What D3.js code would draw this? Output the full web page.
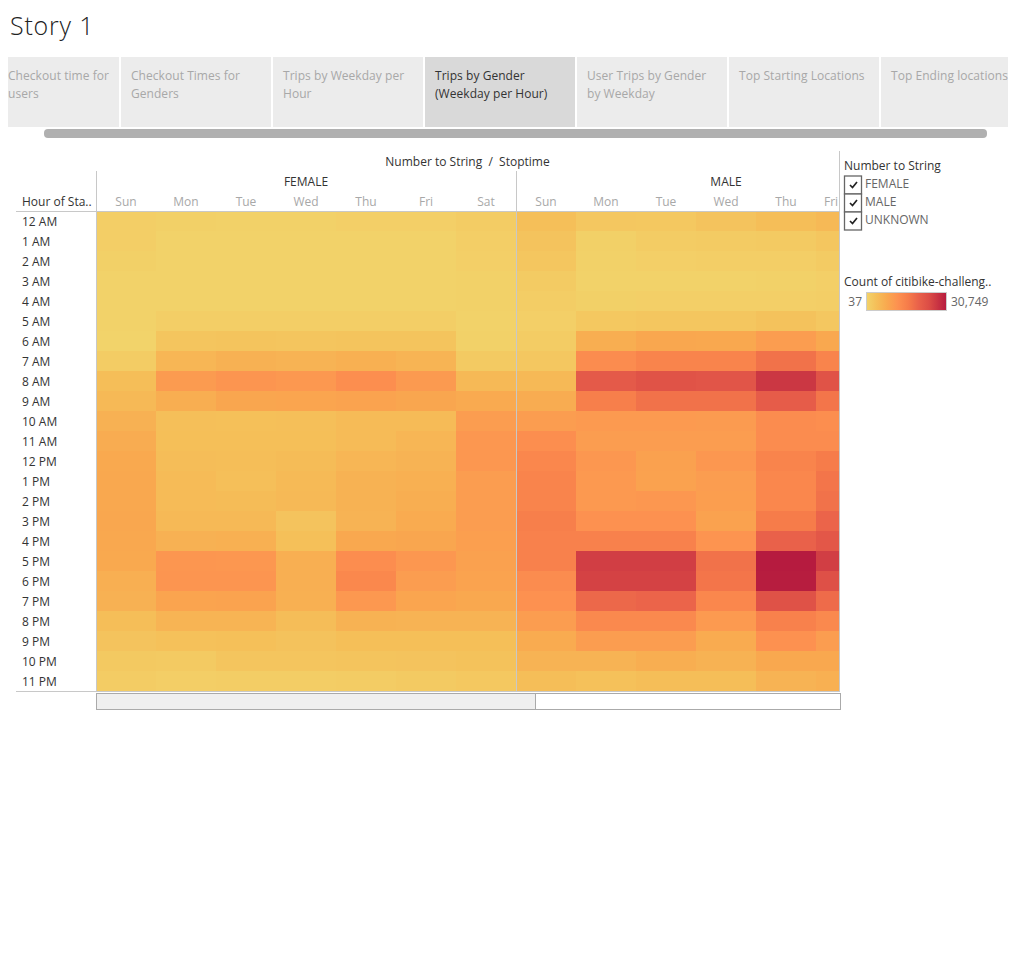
<!DOCTYPE html>
<html>
<head>
    <meta charset="utf-8">
    <script src="https://cdnjs.cloudflare.com/ajax/libs/d3/7.8.5/d3.min.js"></script>
</head>
<body style="margin:0;background:#fff">
<style>
    text{font-family:"Open Sans",sans-serif;}
    .tick text{font-family:"Open Sans",sans-serif;}
    .tab{font-size:12px;fill:#a8a8a8;letter-spacing:0.05px;}
    .tab.dark{fill:#333;}
    .axis path{display:none;}
    .axis line{display:none;}
    .rule{stroke:#c8c8c8;fill:none;}
</style>
<script>
    var hours=["12 AM","1 AM","2 AM","3 AM","4 AM","5 AM","6 AM","7 AM","8 AM","9 AM","10 AM","11 AM",
        "12 PM","1 PM","2 PM","3 PM","4 PM","5 PM","6 PM","7 PM","8 PM","9 PM","10 PM","11 PM"];
    var days=["Sun","Mon","Tue","Wed","Thu","Fri","Sat"];
    var maleDays=["Sun","Mon","Tue","Wed","Thu","Fri"];
    var genders=["FEMALE","MALE","UNKNOWN"];
    var tabNames=[["Checkout time for","users"],["Checkout Times for","Genders"],["Trips by Weekday per","Hour"],
        ["Trips by Gender","(Weekday per Hour)"],["User Trips by Gender","by Weekday"],["Top Starting Locations"],["Top Ending locations"]];

    // one row per hour, Sun..Sat
    var female=[
        [900,600,500,500,700,800,1300],
        [1000,300,300,300,300,200,1000],
        [600,200,200,200,200,200,800],
        [300,200,200,200,200,200,500],
        [300,200,200,200,200,200,400],
        [200,900,900,900,900,1000,300],
        [100,2600,2800,2700,2900,2800,500],
        [1400,5500,6300,6000,6500,5800,1700],
        [4000,10300,11300,10800,12500,10400,5000],
        [5000,7000,8300,8500,8800,8300,7600],
        [6300,3800,3700,3800,4500,4600,10000],
        [7200,3900,3900,3900,4500,5500,11000],
        [7800,4100,4000,4400,5500,6000,11000],
        [8000,4500,3800,4800,6200,6500,10000],
        [8000,4500,4300,5000,6200,7000,10000],
        [8100,5000,5000,3000,6000,7500,10000],
        [8000,6300,6500,3700,8000,8300,9500],
        [7800,11200,11000,6800,12800,11000,9200],
        [6800,11300,11300,6800,13800,10000,8800],
        [6400,8700,8900,6600,10800,8500,8000],
        [4000,5800,5800,4100,6200,6000,6000],
        [3000,3500,3700,3200,3900,3900,3900],
        [2000,1800,2700,2600,2800,3000,3300],
        [1400,1000,1100,1200,1300,1700,2200]
    ];
    // Sun..Fri, Sat is scrolled out of the view
    var male=[
        [3800,2300,2200,3000,4000,5000],
        [3000,600,1400,1500,1800,2500],
        [2500,500,800,1000,900,1500],
        [1500,300,200,300,500,800],
        [1200,600,700,700,800,900],
        [700,2200,2400,2400,3200,2300],
        [1300,7000,8200,8000,10000,8000],
        [2300,13000,14500,14500,17500,14500],
        [5000,21500,22800,22500,27000,22800],
        [7300,15500,17500,17500,21000,17000],
        [10000,10500,10500,10200,13000,12500],
        [12500,10000,10000,10000,13000,13000],
        [14000,11000,9300,11000,14500,16000],
        [14500,10600,9000,10000,14000,17000],
        [14500,10600,11000,9800,14000,17500],
        [15500,12000,12000,9000,16000,19500],
        [15000,15000,15000,11500,20000,22000],
        [15000,26000,26000,17500,30749,26000],
        [13000,25500,25500,17000,30500,23500],
        [12000,19000,19500,14000,23000,18500],
        [10000,13500,13500,10500,15000,13500],
        [7500,10000,10000,7500,12000,10000],
        [6000,6000,7000,6200,8000,8000],
        [4000,3500,4000,4000,6000,6500]
    ];
    var colorStops=[37,4000,8000,12000,16000,20000,24000,30749];
    var colorRange=["#f2d36a","#f5be58","#f9a84f","#fd9150","#f67c4a","#e9614a","#dc4d46","#b61b3f"];

    var w=1015,h=963;
    var svg=d3.select('body').append('svg').attr('width',w).attr('height',h).style('display','block');
    var color=d3.scaleLinear().domain(colorStops).range(colorRange);

    //title
    svg.append('text').attr('x',10).attr('y',35).attr('font-size',25).attr('font-weight',300).attr('letter-spacing',0.8)
        .attr('fill','#222').text('Story 1');

    //story tabs
    var tabLeft=[8,121,273,425,577,729,881],
        tabRight=[119,271,423,575,727,879,1008],
        tabPad=[0,10,10,10,10,10,10];
    tabNames.forEach(function(lines,i){
        var on=i==3;
        svg.append('rect').attr('x',tabLeft[i]).attr('y',57).attr('width',tabRight[i]-tabLeft[i]).attr('height',70)
            .attr('fill',on?'#d9d9d9':'#ececec');
        lines.forEach(function(s,j){
            svg.append('text').attr('class','tab'+(on?' dark':'')).attr('x',tabLeft[i]+tabPad[i]).attr('y',80+18*j).text(s);
        });
    });
    svg.append('rect').attr('x',44).attr('y',129).attr('width',943).attr('height',9).attr('rx',4).attr('fill','#b0b0b0');

    //heat map
    var y=d3.scaleBand().domain(hours).range([211,691]);
    var xf=d3.scaleBand().domain(days).range([96,516]);
    var xm=d3.scaleBand().domain(days).range([516,936]);

    svg.append('clipPath').attr('id','view').append('rect').attr('x',96).attr('y',211).attr('width',743).attr('height',480);
    var cells=svg.append('g').attr('clip-path','url(#view)').attr('shape-rendering','crispEdges');

    function drawPanel(cls,rows,names,x){
        var flat=[];
        rows.forEach(function(r,i){
            r.forEach(function(v,j){ flat.push({hour:hours[i],day:names[j],v:v}); });
        });
        cells.selectAll('rect.'+cls).data(flat).enter().append('rect').attr('class',cls)
            .attr('x',function(d){return x(d.day)})
            .attr('y',function(d){return y(d.hour)})
            .attr('width',x.bandwidth())
            .attr('height',y.bandwidth())
            .attr('fill',function(d){return color(d.v)});
    }
    drawPanel('f',female,days,xf);
    drawPanel('m',male,maleDays,xm);

    //axes
    var yAxis=svg.append('g').attr('class','axis').attr('transform','translate(22,1)')
        .call(d3.axisRight(y).tickSize(0).tickPadding(0));
    yAxis.selectAll('text').attr('font-size',12).attr('fill','#333').attr('dy','0.35em');

    function dayAxis(x,names){
        var g=svg.append('g').attr('class','axis').attr('transform','translate(0,206)')
            .call(d3.axisTop(x).tickValues(names).tickSize(0).tickPadding(0));
        g.selectAll('text').attr('font-size',12).attr('fill','#a8a8a8');
        return g;
    }
    dayAxis(xf,days);
    //the male Fri label sits inside the visible part of its column
    dayAxis(xm,maleDays).selectAll('text').filter(function(d){return d=='Fri'}).attr('dx',-15);

    function label(s,xp,yp,size,col,anchor){
        return svg.append('text').attr('x',xp).attr('y',yp).attr('font-size',size).attr('fill',col)
            .attr('text-anchor',anchor||'start').text(s);
    }
    label('Number to String\u00a0 /\u00a0 Stoptime',467.5,166,12,'#333','middle');
    label('FEMALE',306,186,12,'#333','middle');
    label('MALE',726,186,12,'#333','middle');
    label('Hour of Sta..',22,206,12,'#333');

    //rules
    [[96.5,171,96.5,691.5],[516.5,171,516.5,691.5],[839.5,151,839.5,691.5],[16,211.5,840,211.5],[16,691.5,840,691.5]].forEach(function(l){
        svg.append('line').attr('class','rule').attr('x1',l[0]).attr('y1',l[1]).attr('x2',l[2]).attr('y2',l[3]);
    });

    //bottom scroll bar
    svg.append('rect').attr('x',96.5).attr('y',693.5).attr('width',744).attr('height',16).attr('fill','#fff').attr('stroke','#aaa');
    svg.append('rect').attr('x',96.5).attr('y',693.5).attr('width',439).attr('height',16).attr('fill','#efefef').attr('stroke','#aaa');

    //legends
    label('Number to String',844,170,12,'#333');
    genders.forEach(function(g,i){
        var top=176+18*i;
        svg.append('rect').attr('x',844.5).attr('y',top).attr('width',17).attr('height',18).attr('fill','#fff').attr('stroke','#666').attr('stroke-width',1.3);
        svg.append('path').attr('d','M850 '+(top+9)+'l2.5 2.5l4.5 -5.5').attr('fill','none').attr('stroke','#222').attr('stroke-width',1.7);
        label(g,865,top+12,12,'#666');
    });

    label('Count of citibike-challeng..',844,286,12,'#333');
    var grad=svg.append('defs').append('linearGradient').attr('id','ramp');
    var legendX=d3.scaleLinear().domain([37,30749]).range([0,100]);
    colorStops.forEach(function(v,i){
        grad.append('stop').attr('offset',legendX(v)+'%').attr('stop-color',colorRange[i]);
    });
    svg.append('rect').attr('x',866.5).attr('y',292.5).attr('width',80).attr('height',18).attr('fill','url(#ramp)').attr('stroke','#ccc');
    label('37',862,306,12,'#666','end');
    label('30,749',951,306,12,'#666');
</script>
</body>
</html>
